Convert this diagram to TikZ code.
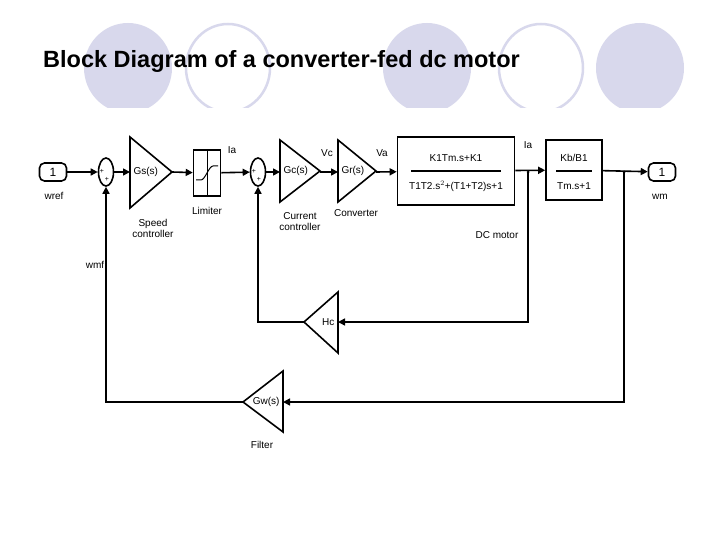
\documentclass[tikz,border=0pt]{standalone}
\usepackage{fontspec}
\setmainfont{Liberation Sans}
\usetikzlibrary{arrows.meta,shapes.geometric}
\begin{document}
\begin{tikzpicture}[x=1pt,y=-1pt,
  ln/.style={line width=1.6pt},
  ar/.style={ln,-{Triangle[length=7pt,width=7pt]}},
  blk/.style={draw,line width=1.6pt,inner sep=0},
  lbl/.style={font=\fontsize{10}{11}\selectfont,align=center},
  tri/.style={draw,line width=1.6pt}]
\useasboundingbox (0,0) rectangle (720,540);
\fill[white] (0,0) rectangle (720,540);
\definecolor{lav}{RGB}{216,216,236}
\begin{scope}
\clip (0,0) rectangle (720,108);
\fill[lav] (128,68) ellipse (44 and 45);
\draw[lav,line width=2.5pt] (228,68) ellipse (42 and 44);
\fill[lav] (427,68) ellipse (44 and 45);
\draw[lav,line width=2.5pt] (541,68) ellipse (42 and 44);
\fill[lav] (640,68) ellipse (44 and 45);
\end{scope}
\node[anchor=base west,inner sep=0,font=\bfseries\fontsize{23.5}{25}\selectfont] (title) at (43,68) {Block Diagram of a converter-fed dc motor};
% blocks
\node[blk,rounded corners=5pt,minimum width=27pt,minimum height=18pt,font=\fontsize{12}{12}\selectfont] (in) at (53,172) {1};
\node[lbl] (wref) at (54,196) {wref};
\node[blk,ellipse,minimum width=15pt,minimum height=28pt] (s1) at (106,172) {};
\node[font=\fontsize{7}{7}\selectfont] (p1) at (102,171) {+};
\node[font=\fontsize{7}{7}\selectfont] (p1b) at (107,179) {+};
\coordinate (g1a) at (130,137); \coordinate (g1b) at (130,208); \coordinate (g1c) at (172,172);
\draw[tri] (g1a) -- (g1c) -- (g1b) -- cycle;
\node[lbl,anchor=west] (gs) at (130,172) {Gs(s)};
\node[lbl] (sc) at (153,228) {Speed\\controller};
\node[blk,minimum width=27pt,minimum height=46pt] (lim) at (207,173) {};
\draw[line width=0.6pt] (207,151) -- (207,195);
\draw[line width=1pt] (196,180) -- (201,180) .. controls (205,180) and (209,166) .. (213,166) -- (218,166);
\node[lbl] (liml) at (207,211) {Limiter};
\node[lbl] (ia) at (232,150) {Ia};
\node[blk,ellipse,minimum width=15pt,minimum height=28pt] (s2) at (258,172) {};
\node[font=\fontsize{7}{7}\selectfont] (p2) at (254,171) {+};
\node[font=\fontsize{7}{7}\selectfont] (p2b) at (259,179) {+};
\draw[tri] (280,140) -- (320,171) -- (280,202) -- cycle;
\node[lbl,anchor=west] (gc) at (280,171) {Gc(s)};
\coordinate (gcin) at (280,172); \coordinate (gcout) at (320,172);
\node[lbl] (cc) at (300,222) {Current\\controller};
\node[lbl] (vc) at (327,153) {Vc};
\draw[tri] (338,140) -- (376,171) -- (338,202) -- cycle;
\node[lbl,anchor=west] (gr) at (338,171) {Gr(s)};
\coordinate (grin) at (338,172); \coordinate (grout) at (376,172);
\node[lbl] (conv) at (356,213) {Converter};
\node[lbl] (va) at (382,153) {Va};
\node[blk,minimum width=117pt,minimum height=68pt] (dc) at (456,171) {};
\draw[line width=1.6pt] (411,171) -- (501,171);
\node[lbl] (dcn) at (456,158) {K1Tm.s+K1};
\node[lbl] (dcd) at (456,186) {T1T2.s$^2$+(T1+T2)s+1};
\node[lbl] (dcl) at (497,235) {DC motor};
\node[lbl] (ial) at (528,145) {Ia};
\node[blk,minimum width=56pt,minimum height=60pt] (kb) at (574,170) {};
\draw[line width=1.6pt] (556,171) -- (592,171);
\node[lbl] (kbn) at (574,158) {Kb/B1};
\node[lbl] (kbd) at (574,186) {Tm.s+1};
\node[blk,rounded corners=5pt,minimum width=27pt,minimum height=18pt,font=\fontsize{12}{12}\selectfont] (out) at (662,172) {1};
\node[lbl] (wm) at (660,197) {wm};
\coordinate (b1) at (528,172); \coordinate (b2) at (624,172);
\fill (b1) circle (1.5pt); \fill (b2) circle (1.5pt);
\draw[tri] (338,292) -- (304,322) -- (338,353) -- cycle;
\node[lbl,anchor=east] (hc) at (338,322) {Hc};
\draw[tri] (283,371) -- (243,402) -- (283,432) -- cycle;
\node[lbl,anchor=east] (gw) at (283,402) {Gw(s)};
\node[lbl] (fl) at (262,445) {Filter};
\node[lbl] (wmf) at (95,265) {wmf};
% connectors
\draw[ar] (in) -- (s1);
\draw[ar] (s1) -- (g1a |- s1);
\draw[ar] (g1c) -- (lim);
\draw[ar] (lim) -- (s2);
\draw[ar] (s2) -- (gcin);
\draw[ar] (gcout) -- (grin);
\draw[ar] (grout) -- (dc);
\draw[ar] (dc) -- (kb);
\draw[ar] (kb) -- (out);
\draw[ar] (b1) -- (528,322) -- (338,322);
\draw[ar] (304,322) -- (258,322) -- (s2);
\draw[ar] (b2) -- (624,402) -- (283,402);
\draw[ar] (243,402) -- (106,402) -- (s1);
\end{tikzpicture}
\end{document}
